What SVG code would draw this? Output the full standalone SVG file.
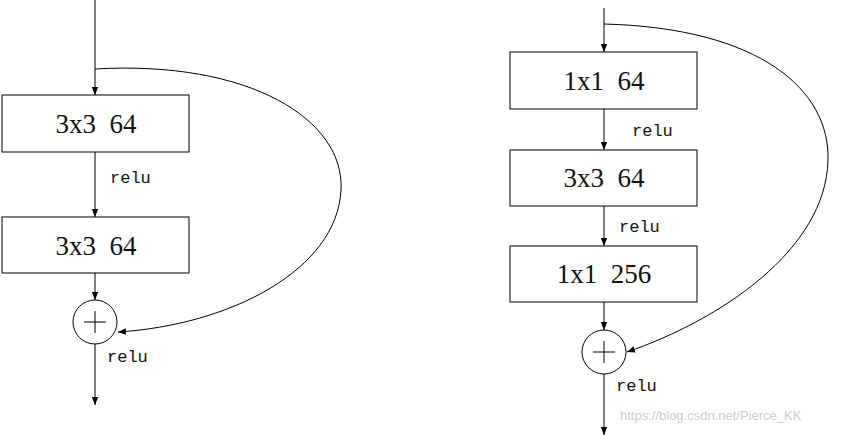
<svg xmlns="http://www.w3.org/2000/svg" width="848" height="435" viewBox="0 0 848 435">
<style>
.box{fill:#fff;stroke:#000;stroke-width:1}
.bt{font-family:"Liberation Serif",serif;font-size:27px;text-anchor:middle;fill:#111;white-space:pre}
.lb{font-family:"Liberation Mono",monospace;font-size:17px;fill:#111}
.ln{fill:none;stroke:#000;stroke-width:1}
</style>
<defs><marker id="a" viewBox="0 0 10 10" refX="10" refY="5" markerWidth="8" markerHeight="8" orient="auto" markerUnits="userSpaceOnUse"><path d="M0,1 L10,5 L0,9 z" fill="#000"/></marker></defs>
<rect width="848" height="435" fill="#fff"/>
<g id="connectors">
<line class="ln" x1="95" y1="0" x2="95" y2="95" marker-end="url(#a)"/>
<line class="ln" x1="95" y1="152" x2="95" y2="217" marker-end="url(#a)"/>
<line class="ln" x1="95" y1="273" x2="95" y2="300" marker-end="url(#a)"/>
<line class="ln" x1="95" y1="344" x2="95" y2="405" marker-end="url(#a)"/>
<path class="ln" d="M95,69 C250,60 345,120 341,190 C337,270 230,325 118,332" marker-end="url(#a)"/>
<line class="ln" x1="604" y1="8" x2="604" y2="52" marker-end="url(#a)"/>
<line class="ln" x1="604" y1="109" x2="604" y2="150" marker-end="url(#a)"/>
<line class="ln" x1="604" y1="206" x2="604" y2="246" marker-end="url(#a)"/>
<line class="ln" x1="604" y1="302" x2="604" y2="330" marker-end="url(#a)"/>
<line class="ln" x1="604" y1="374" x2="604" y2="435" marker-end="url(#a)"/>
<path class="ln" d="M604,24 C760,28 830,90 828,160 C826,250 720,320 627,352" marker-end="url(#a)"/>
<text class="lb" x="110" y="183">relu</text>
<text class="lb" x="107" y="362">relu</text>
<text class="lb" x="632" y="136">relu</text>
<text class="lb" x="619" y="232">relu</text>
<text class="lb" x="616" y="391">relu</text>
</g>
<g id="l1"><rect class="box" x="2" y="95" width="187" height="57"/><text class="bt" x="96" y="133" xml:space="preserve">3x3  64</text></g>
<g id="l2"><rect class="box" x="2" y="217" width="187" height="56"/><text class="bt" x="96" y="255" xml:space="preserve">3x3  64</text></g>
<g id="lp"><circle class="box" cx="95" cy="322" r="22"/><path class="ln" d="M84,322 H106 M95,311 V333" stroke-width="2"/></g>
<g id="r1"><rect class="box" x="510" y="52" width="187" height="57"/><text class="bt" x="604" y="90" xml:space="preserve">1x1  64</text></g>
<g id="r2"><rect class="box" x="510" y="150" width="187" height="56"/><text class="bt" x="604" y="187" xml:space="preserve">3x3  64</text></g>
<g id="r3"><rect class="box" x="510" y="246" width="187" height="56"/><text class="bt" x="604" y="283" xml:space="preserve">1x1  256</text></g>
<g id="rp"><circle class="box" cx="604" cy="352" r="22"/><path class="ln" d="M593,352 H615 M604,341 V363" stroke-width="2"/></g>
<text x="620" y="420" style="font-family:'Liberation Sans',sans-serif;font-size:13px;fill:#ccc">https://blog.csdn.net/Pierce_KK</text>
</svg>
